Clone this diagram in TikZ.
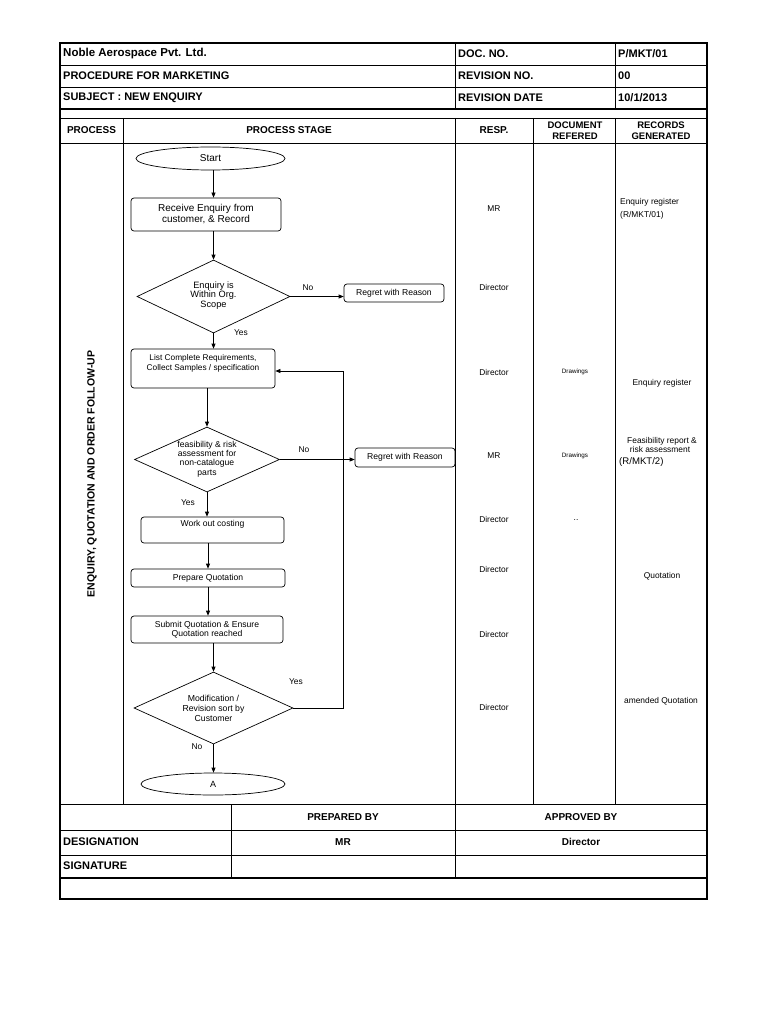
\documentclass[tikz,border=0pt]{standalone}
\usepackage{fontspec}
\setmainfont{Liberation Sans}
\usetikzlibrary{shapes.geometric,arrows.meta}
\begin{document}
\begin{tikzpicture}[x=1pt,y=-1pt,
  tbl/.style={line width=0.8pt},
  hd/.style={font=\fontsize{11}{12}\selectfont\bfseries, anchor=west, inner sep=0pt},
  th/.style={font=\fontsize{10}{11}\selectfont\bfseries, inner sep=0pt, align=center},
  box/.style={draw, rounded corners=3pt, line width=0.7pt, inner sep=0pt},
  fc/.style={font=\fontsize{8.6}{9.6}\selectfont, inner sep=0pt, align=center},
  lbl/.style={font=\fontsize{8.4}{9}\selectfont, inner sep=0pt},
  col/.style={font=\fontsize{8.4}{9}\selectfont, inner sep=0pt},
  arr/.style={-{Triangle[length=5pt,width=4pt]}, line width=0.7pt}]
\useasboundingbox (0,0) rectangle (768,1024);
\fill[white] (0,0) rectangle (768,1024);
% ---------- table ----------
\draw[line width=1.5pt] (60,43) rectangle (707,899);
\foreach \yy in {65,87,118,143,804,830,855} \draw[tbl] (60,\yy) -- (707,\yy);
\draw[line width=1.3pt] (60,109) -- (707,109);
\draw[line width=1.3pt] (60,878) -- (707,878);
\draw[tbl] (455,43) -- (455,109);
\draw[tbl] (615,43) -- (615,109);
\foreach \xx in {123,455,533,615} \draw[tbl] (\xx,118) -- (\xx,804);
\draw[tbl] (231,804) -- (231,878);
\draw[tbl] (455,804) -- (455,878);
% header texts
\node[hd, font=\fontsize{11.5}{12}\selectfont\bfseries] (h1) at (63,54) {Noble Aerospace Pvt. Ltd.};
\node[hd] (h2) at (63,76) {PROCEDURE FOR MARKETING};
\node[hd] (h3) at (63,98) {SUBJECT : NEW ENQUIRY};
\node[hd] (h4) at (458,54) {DOC. NO.};
\node[hd] (h5) at (458,76) {REVISION NO.};
\node[hd] (h6) at (458,98) {REVISION DATE};
\node[hd] (h7) at (618,54) {P/MKT/01};
\node[hd] (h8) at (618,76) {00};
\node[hd] (h9) at (618,98) {10/1/2013};
\node[th] (t1) at (91.5,130.5) {PROCESS};
\node[th] (t2) at (289,130.5) {PROCESS STAGE};
\node[th] (t3) at (494,130.5) {RESP.};
\node[th, font=\fontsize{9.5}{11}\selectfont\bfseries] (t4) at (575,130.5) {DOCUMENT\\REFERED};
\node[th, font=\fontsize{9.5}{11}\selectfont\bfseries] (t5) at (661,130.5) {RECORDS\\GENERATED};
\node[th, rotate=90, font=\fontsize{10.5}{12}\selectfont\bfseries] (vt) at (92,474) {ENQUIRY, QUOTATION AND ORDER FOLLOW-UP};
% footer
\node[th] (f1) at (343,817) {PREPARED BY};
\node[th] (f2) at (581,817) {APPROVED BY};
\node[hd] (f3) at (63,842) {DESIGNATION};
\node[th] (f4) at (343,842) {MR};
\node[th] (f5) at (581,842) {Director};
\node[hd] (f6) at (63,866) {SIGNATURE};
% ---------- flowchart ----------
\node[ellipse, draw, line width=0.7pt, minimum width=149pt, minimum height=23pt, inner sep=0pt,
      font=\fontsize{10}{11}\selectfont] (start) at (210.5,158.5) {Start};
\node[box, minimum width=150pt, minimum height=33pt, font=\fontsize{10}{11}\selectfont, align=center]
      (recv) at (206,214.5) {Receive Enquiry from\\customer, \& Record};
\node[diamond, draw, line width=0.7pt, minimum width=153pt, minimum height=73pt, inner sep=0pt] (d1) at (213.5,296.5) {};
\node[fc, font=\fontsize{9.2}{9.8}\selectfont] (d1t) at (213.5,295.5) {Enquiry is\\Within Org.\\Scope};
\node[box, minimum width=100pt, minimum height=18pt, font=\fontsize{8.6}{9}\selectfont] (reg1) at (394,293) {Regret with Reason};
\node[box, minimum width=144pt, minimum height=39pt] (list) at (203,368.5) {};
\node[fc, font=\fontsize{8.3}{10}\selectfont] (listt) at (203,363) {List Complete Requirements,\\Collect Samples / specification};
\node[diamond, draw, line width=0.7pt, minimum width=145pt, minimum height=65pt, inner sep=0pt] (d2) at (207,459.5) {};
\node[fc, font=\fontsize{8.6}{9.4}\selectfont] (d2t) at (207,459) {feasibility \& risk\\assessment for\\non-catalogue\\parts};
\node[box, minimum width=100pt, minimum height=19pt, font=\fontsize{8.6}{9}\selectfont] (reg2) at (405,457.5) {Regret with Reason};
\node[box, minimum width=143pt, minimum height=26pt] (work) at (212.5,530) {};
\node[fc] (workt) at (212.5,524) {Work out costing};
\node[box, minimum width=154pt, minimum height=18pt, font=\fontsize{8.6}{9}\selectfont] (prep) at (208,578) {Prepare Quotation};
\node[box, minimum width=152pt, minimum height=27pt, font=\fontsize{8.6}{9.4}\selectfont, align=center]
      (subm) at (207,629.5) {Submit Quotation \& Ensure\\Quotation reached};
\node[diamond, draw, line width=0.7pt, minimum width=159pt, minimum height=72pt, inner sep=0pt] (d3) at (213.5,708) {};
\node[fc, font=\fontsize{8.7}{10}\selectfont] (d3t) at (213.5,708) {Modification /\\Revision sort by\\Customer};
\node[ellipse, draw, line width=0.7pt, minimum width=144pt, minimum height=22pt, inner sep=0pt,
      font=\fontsize{9}{10}\selectfont] (enda) at (213,784) {A};
% connectors
\draw[arr] (d1.north |- start.south) -- (d1.north |- recv.north);
\draw[arr] (d1.north |- recv.south) -- (d1.north);
\draw[arr] (d1.east) -- (d1.east -| reg1.west);
\draw[arr] (d1.south) -- (d1.south |- list.north);
\draw[arr] (d2.north |- list.south) -- (d2.north);
\draw[arr] (d2.east) -- (d2.east -| reg2.west);
\draw[arr] (d2.south) -- (d2.south |- work.north);
\draw[arr] (prep.north |- work.south) -- (prep.north);
\draw[arr] (prep.south) -- (prep.south |- subm.north);
\draw[arr] (d3.north |- subm.south) -- (d3.north);
\draw[arr] (d3.south) -- (d3.south |- enda.north);
\coordinate (lp) at (343,371);
\draw[arr] (d3.east) -| (lp) -- (list.east |- lp);
% connector labels
\node[lbl] (no1) at (308,288) {No};
\node[lbl] (yes1) at (241,333) {Yes};
\node[lbl] (no2) at (304,450) {No};
\node[lbl] (yes2) at (188,503) {Yes};
\node[lbl] (yes3) at (296,682) {Yes};
\node[lbl] (no3) at (197,747) {No};
% ---------- right columns ----------
\node[col] (r1) at (494,209) {MR};
\node[col] (r2) at (494,287) {Director};
\node[col] (r3) at (494,372) {Director};
\node[col] (r4) at (494,456) {MR};
\node[col] (r5) at (494,519) {Director};
\node[col] (r6) at (494,569) {Director};
\node[col] (r7) at (494,634) {Director};
\node[col] (r8) at (494,707) {Director};
\node[col, font=\fontsize{6.3}{7}\selectfont] (dc1) at (575,372) {Drawings};
\node[col, font=\fontsize{6.3}{7}\selectfont] (dc2) at (575,456) {Drawings};
\node[col] (dc3) at (576,520) {..};
\node[col, anchor=west] (g1) at (620,202) {Enquiry register};
\node[col, anchor=west] (g2) at (620,215) {(R/MKT/01)};
\node[col] (g3) at (662,383) {Enquiry register};
\node[col] (g4) at (662,441) {Feasibility report \&};
\node[col] (g5) at (660,449) {risk assessment};
\node[col, anchor=west, font=\fontsize{9.6}{10}\selectfont] (g6) at (619,462) {(R/MKT/2)};
\node[col] (g7) at (662,576) {Quotation};
\node[col] (g8) at (661,701) {amended Quotation};
\end{tikzpicture}
\end{document}
